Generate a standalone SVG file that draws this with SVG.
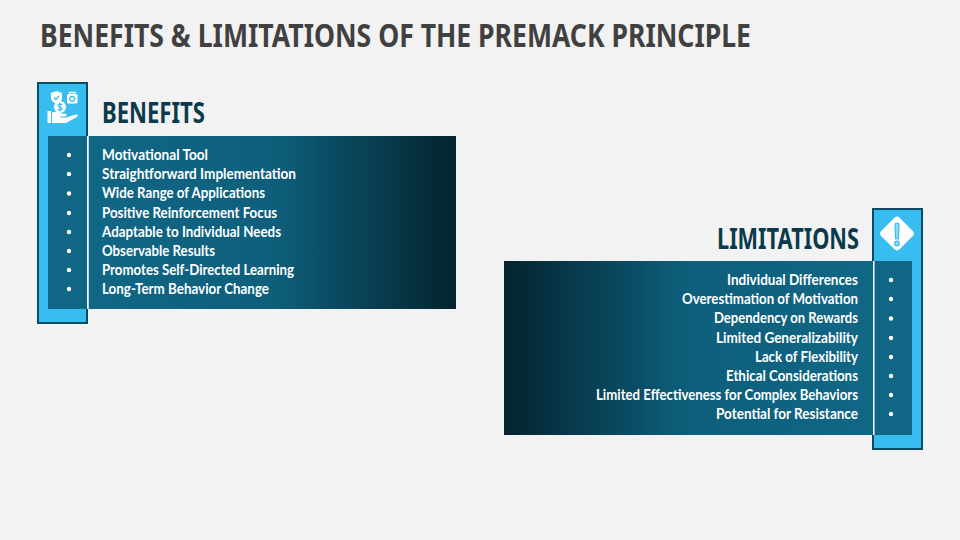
<svg xmlns="http://www.w3.org/2000/svg" width="960" height="540" viewBox="0 0 960 540">
<defs>
<linearGradient id="gl" x1="0" x2="1" y1="0" y2="0"><stop offset="0" stop-color="#106785"/><stop offset="0.5" stop-color="#0e5f7b"/><stop offset="1" stop-color="#03242f"/></linearGradient>
<linearGradient id="gr" x1="1" x2="0" y1="0" y2="0"><stop offset="0" stop-color="#106785"/><stop offset="0.5" stop-color="#0e5f7b"/><stop offset="1" stop-color="#03242f"/></linearGradient>
</defs>
<style>
text{font-family:Lato,"Noto Sans","Liberation Sans",sans-serif;font-weight:700}
.t{fill:#404040;font-size:32.500px;font-family:"Noto Sans","Liberation Sans",sans-serif}
.h{fill:#0a3a4c;font-size:29px;font-family:"Noto Sans","Liberation Sans",sans-serif}
.i{fill:#fff;font-size:15.500px}
.r{text-anchor:end}
.o{fill:#38bdf0;stroke:#0b4c63;stroke-width:2}
.b{fill:#106785}
.d{fill:#fff}
.l{fill:none;stroke:#38bdf0;stroke-width:1.200}
</style>
<rect width="960" height="540" fill="#f2f2f2"/>
<text class="t" x="40" y="47" textLength="711" lengthAdjust="spacingAndGlyphs">BENEFITS &amp; LIMITATIONS OF THE PREMACK PRINCIPLE</text>
<g id="benefits">
<rect class="o" x="38" y="83" width="49" height="240"/>
<rect class="b" x="48" y="136" width="39" height="173"/>
<rect x="88.500" y="136" width="367.500" height="173" fill="url(#gl)"/>
<rect x="87" y="136" width="1.500" height="173" fill="#fff"/>
<g class="icon">
<path class="d" d="M47.500 111h3.500v12h-3.500z"/>
<path class="d" d="M52 112.500c3-1.500 6-1 9 1h4c2 0 2 3 0 3h-5v1h6l10-3c2 0 2.500 1.500 1 2.500l-11 6H52z"/>
<path class="d" d="M56.500 91l5.500 2v5c0 2.500-2 4.500-5.500 6-3.500-1.500-5.500-3.500-5.500-6v-5z"/>
<path class="l" d="M54 97.500l2 2 3-3.500"/>
<circle class="d" cx="60" cy="107" r="6"/>
<path class="l" d="M62.200 104.800c-1-1-4.200-1-4.200.8 0 2.200 4.200 1 4.200 3 0 1.600-3.200 1.600-4.400.6M60 102.500v9"/>
<rect class="d" x="67" y="94" width="10.500" height="9.500" rx="1.500"/>
<path d="M69.500 94v-1.500h5.500v1.500" fill="none" stroke="#fff" stroke-width="1.300"/>
<circle class="l" cx="72.200" cy="98.800" r="2.500"/>
</g>
<text class="h" x="102" y="123" textLength="103" lengthAdjust="spacingAndGlyphs">BENEFITS</text>
<g class="bullets">
<circle class="d" cx="69" cy="155" r="2.200"/><circle class="d" cx="69" cy="174" r="2.200"/><circle class="d" cx="69" cy="193.500" r="2.200"/><circle class="d" cx="69" cy="213" r="2.200"/><circle class="d" cx="69" cy="232" r="2.200"/><circle class="d" cx="69" cy="251" r="2.200"/><circle class="d" cx="69" cy="270" r="2.200"/><circle class="d" cx="69" cy="289" r="2.200"/>
</g>
<text class="i" x="102" y="160" textLength="106" lengthAdjust="spacingAndGlyphs">Motivational Tool</text>
<text class="i" x="102" y="179" textLength="194" lengthAdjust="spacingAndGlyphs">Straightforward Implementation</text>
<text class="i" x="102" y="198" textLength="163" lengthAdjust="spacingAndGlyphs">Wide Range of Applications</text>
<text class="i" x="102" y="218" textLength="175" lengthAdjust="spacingAndGlyphs">Positive Reinforcement Focus</text>
<text class="i" x="102" y="237" textLength="179" lengthAdjust="spacingAndGlyphs">Adaptable to Individual Needs</text>
<text class="i" x="102" y="256" textLength="113" lengthAdjust="spacingAndGlyphs">Observable Results</text>
<text class="i" x="102" y="275" textLength="192" lengthAdjust="spacingAndGlyphs">Promotes Self-Directed Learning</text>
<text class="i" x="102" y="294" textLength="167" lengthAdjust="spacingAndGlyphs">Long-Term Behavior Change</text>
</g>
<g id="limitations">
<rect class="o" x="873" y="209" width="49" height="240"/>
<rect class="b" x="874" y="261" width="38" height="174"/>
<rect x="504" y="261" width="369" height="174" fill="url(#gr)"/>
<rect x="873" y="261" width="1.500" height="174" fill="#fff"/>
<g class="icon">
<rect x="884" y="220.500" width="26" height="26" rx="4" transform="rotate(45 897 233.500)" fill="#fff"/>
<path d="M895 224.500c0-2 4-2 4 0l-.6 14.500h-2.800z" fill="#8fdcf7" stroke="#38bdf0" stroke-width="1.200"/>
<circle cx="897" cy="243.500" r="2.300" fill="#8fdcf7" stroke="#38bdf0" stroke-width="1.200"/>
</g>
<text class="h r" x="859" y="249" textLength="142" lengthAdjust="spacingAndGlyphs">LIMITATIONS</text>
<g class="bullets">
<circle class="d" cx="891" cy="280" r="2.200"/><circle class="d" cx="891" cy="299" r="2.200"/><circle class="d" cx="891" cy="318.500" r="2.200"/><circle class="d" cx="891" cy="338" r="2.200"/><circle class="d" cx="891" cy="357" r="2.200"/><circle class="d" cx="891" cy="376" r="2.200"/><circle class="d" cx="891" cy="395" r="2.200"/><circle class="d" cx="891" cy="414" r="2.200"/>
</g>
<text class="i r" x="858" y="285" textLength="131" lengthAdjust="spacingAndGlyphs">Individual Differences</text>
<text class="i r" x="858" y="304" textLength="176" lengthAdjust="spacingAndGlyphs">Overestimation of Motivation</text>
<text class="i r" x="858" y="323" textLength="144" lengthAdjust="spacingAndGlyphs">Dependency on Rewards</text>
<text class="i r" x="858" y="343" textLength="142" lengthAdjust="spacingAndGlyphs">Limited Generalizability</text>
<text class="i r" x="858" y="362" textLength="103" lengthAdjust="spacingAndGlyphs">Lack of Flexibility</text>
<text class="i r" x="858" y="381" textLength="132" lengthAdjust="spacingAndGlyphs">Ethical Considerations</text>
<text class="i r" x="858" y="400" textLength="262" lengthAdjust="spacingAndGlyphs">Limited Effectiveness for Complex Behaviors</text>
<text class="i r" x="858" y="419" textLength="142" lengthAdjust="spacingAndGlyphs">Potential for Resistance</text>
</g>
</svg>
